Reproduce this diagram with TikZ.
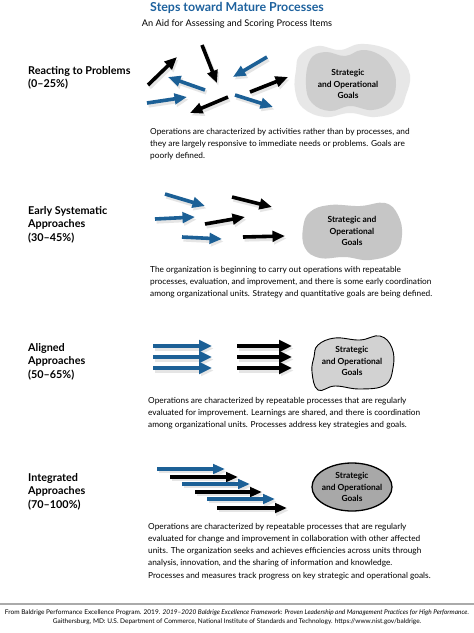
\documentclass[tikz,border=0pt]{standalone}
\usepackage{fontspec}
\setmainfont{Lato}
\usetikzlibrary{arrows.meta,positioning}
\definecolor{titleblue}{RGB}{30,98,158}
\definecolor{arrblue}{RGB}{28,96,150}
\definecolor{cloudlt}{RGB}{231,231,231}
\definecolor{cloudmd}{RGB}{206,206,206}
\definecolor{blobgr}{RGB}{198,198,198}
\definecolor{blobln}{RGB}{210,210,210}
\definecolor{ovalgr}{RGB}{168,168,168}
\definecolor{rulegr}{RGB}{170,170,170}
\tikzset{
  lvl/.style={anchor=north west,align=left,inner sep=0pt,
    font=\fontsize{10.8}{13.5}\selectfont\bfseries},
  desc/.style={anchor=north west,align=left,inner sep=0pt,
    font=\fontsize{8.3}{12.2}\selectfont},
  goal/.style={align=center,inner sep=0pt,
    font=\fontsize{8.4}{11.8}\selectfont\bfseries},
  parr/.style={line width=#1,-{Triangle[length=12.5pt,width=10.5pt]}},
  parr/.default=3.6pt,
  pshade/.style={line width=#1,draw=black!10,-{Triangle[length=12.5pt,width=10.5pt]}},
  pshade/.default=4.2pt,
  foot/.style={align=center,inner sep=0pt,font=\fontsize{6.5}{9.5}\selectfont},
}
\begin{document}
\begin{tikzpicture}[x=1pt,y=-1pt]
  \useasboundingbox[fill=white] (0,0) rectangle (474,633);

  % heading
  \node[inner sep=0pt,font=\fontsize{12.4}{14}\selectfont\bfseries,text=titleblue] (title) at (237,8)
    {Steps toward Mature Processes};
  \node[inner sep=0pt,font=\fontsize{9.2}{11}\selectfont,below=5.5pt of title] (sub)
    {An Aid for Assessing and Scoring Process Items};

  % level 1: reacting
  \node[lvl] (lvl1) at (28,66) {Reacting to Problems\\(0–25\%)};
  \foreach \ax/\ay/\bx/\by/\c in {148/85/177/57/black,202/45/217/83/black,
      205/90/168/77/arrblue,267/57/233/77/arrblue,147/103/187/97/arrblue,
      228/97/190/113/black,235/95/273/107/arrblue,250/92/288/77/black}{
    \draw[pshade] (\ax+1.5,\ay+2.5) -- (\bx+1.5,\by+2.5);
    \draw[parr,color=\c] (\ax,\ay) -- (\bx,\by);
  }
  \fill[cloudlt] plot[smooth cycle,tension=0.7] coordinates {(300,55) (318,46) (340,50)
    (360,44) (385,48) (400,58) (410,75) (406,95) (398,110) (375,117) (350,113)
    (325,117) (303,108) (295,90) (296,70)};
  \fill[cloudmd] plot[smooth cycle,tension=0.7] coordinates {(310,60) (325,52) (345,56)
    (362,50) (380,55) (392,68) (396,85) (390,102) (372,110) (350,106) (330,111)
    (312,103) (306,85)};
  \node[goal] (goal1) at (348,84) {Strategic\\and Operational\\Goals};
  \node[desc] (desc1) at (150,128)
    {Operations are characterized by activities rather than by processes, and\\
     they are largely responsive to immediate needs or problems. Goals are\\
     poorly defined.};

  % level 2: early systematic
  \node[lvl] (lvl2) at (28,206) {Early Systematic\\Approaches\\(30–45\%)};
  \foreach \ax/\ay/\bx/\by/\c in {165/194/205/206/arrblue,155/219/195/217/arrblue,
      182/237/222/239/arrblue,232/197/272/207/black,205/224/245/217/black,
      243/237/285/236/black}{
    \draw[pshade] (\ax+1.5,\ay+2.5) -- (\bx+1.5,\by+2.5);
    \draw[parr,color=\c] (\ax,\ay) -- (\bx,\by);
  }
  \fill[blobgr] plot[smooth cycle,tension=0.7] coordinates {(310,212) (330,205) (360,206)
    (385,203) (398,215) (402,235) (395,252) (370,260) (345,257) (320,258)
    (305,248) (303,228)};
  \node[goal] (goal2) at (352,231) {Strategic and\\Operational\\Goals};
  \node[desc] (desc2) at (150,266)
    {The organization is beginning to carry out operations with repeatable\\
     processes, evaluation, and improvement, and there is some early coordination\\
     among organizational units. Strategy and quantitative goals are being defined.};

  % level 3: aligned
  \node[lvl] (lvl3) at (28,343) {Aligned\\Approaches\\(50–65\%)};
  \foreach \yy in {346,357,368}{
    \foreach \ax/\bx/\c in {153/212/arrblue,237/292/black}{
      \draw[pshade=4.8pt] (\ax+1.5,\yy+2.5) -- (\bx+1.5,\yy+2.5);
      \draw[parr=4.2pt,color=\c,-{Triangle[length=13pt,width=11.5pt]}] (\ax,\yy) -- (\bx,\yy);
    }
  }
  \filldraw[fill=blobln,draw=black,line width=0.9pt] plot[smooth cycle,tension=0.7]
    coordinates {(318,345) (335,338) (360,340) (380,336) (392,348) (393,368)
    (385,385) (360,389) (335,386) (318,390) (312,372) (314,357)};
  \node[goal] (goal3) at (352,361) {Strategic\\and Operational\\Goals};
  \node[desc] (desc3) at (148,397)
    {Operations are characterized by repeatable processes that are regularly\\
     evaluated for improvement. Learnings are shared, and there is coordination\\
     among organizational units. Processes address key strategies and goals.};

  % level 4: integrated
  \node[lvl] (lvl4) at (28,473) {Integrated\\Approaches\\(70–100\%)};
  \foreach \ax/\ay/\bx/\c in {157/469/225/arrblue,170/477/238/black,
      182/484/250/arrblue,195/492/262/black,207/499/275/arrblue,217/508/287/black}{
    \draw[pshade=3.8pt] (\ax+1.5,\ay+2.5) -- (\bx+1.5,\ay+2.5);
    \draw[parr=3.2pt,color=\c,-{Triangle[length=12pt,width=9.5pt]}] (\ax,\ay) -- (\bx,\ay);
  }
  \filldraw[fill=ovalgr,draw=black,line width=1.3pt] (352,487) ellipse [x radius=40,y radius=24];
  \node[goal] (goal4) at (352,487) {Strategic\\and Operational\\Goals};
  \node[desc] (desc4) at (148,523)
    {Operations are characterized by repeatable processes that are regularly\\
     evaluated for change and improvement in collaboration with other affected\\
     units. The organization seeks and achieves efficiencies across units through\\
     analysis, innovation, and the sharing of information and knowledge.\\
     Processes and measures track progress on key strategic and operational goals.};

  % source line
  \draw[rulegr,line width=2pt] (0,604) -- (474,604);
  \node[foot] (src) at (237,617)
    {From Baldrige Performance Excellence Program. 2019. \textit{2019–2020 Baldrige Excellence Framework: Proven Leadership and Management Practices for High Performance.}\\
     Gaithersburg, MD: U.S. Department of Commerce, National Institute of Standards and Technology. https://www.nist.gov/baldrige.};
\end{tikzpicture}
\end{document}
